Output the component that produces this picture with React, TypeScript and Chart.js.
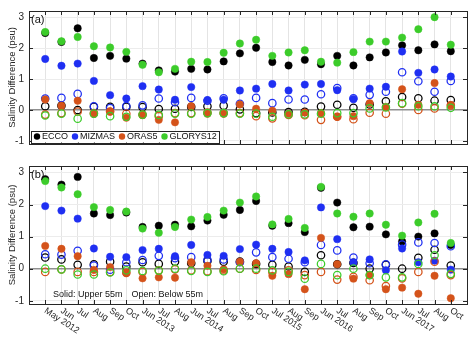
import React, { useEffect, useRef } from 'react';
import { Chart, registerables } from 'chart.js';
Chart.register(...registerables);

const FONT = '"Liberation Sans", Arial, Helvetica, sans-serif';

const categories = ['May 2012', 'Jun', 'Jul', 'Aug', 'Sep', 'Oct', 'Jun 2013', 'Jul', 'Aug', 'Jun 2014', 'Jul', 'Aug', 'Sep', 'Oct', 'Jul 2015', 'Aug', 'Sep', 'Jun 2016', 'Jul', 'Aug', 'Sep', 'Oct', 'Jun 2017', 'Jul', 'Aug', 'Oct'];
const yTicks = [-1, 0, 1, 2, 3];
const modelNames = ['ECCO', 'MIZMAS', 'ORAS5', 'GLORYS12'];
const modelColors = ['#000000', '#1f2ff2', '#d4531a', '#3ccc2a'];

// Panel (a) — solid: upper 55 m, open: below 55 m
const aEccoUpper = [2.49, 2.2, 2.64, 1.68, 1.75, 1.66, 1.5, 1.28, 1.24, 1.33, 1.31, 1.57, 1.83, 2.01, 1.55, 1.44, 1.62, 1.48, 1.75, 1.44, 1.7, 1.86, 2.09, 1.93, 2.12, 1.9];
const aEccoLower = [0.12, 0.14, 0.0, 0.1, 0.1, 0.1, 0.09, 0.03, 0.04, 0.1, 0.12, 0.14, 0.02, -0.1, -0.08, -0.07, -0.06, 0.11, 0.17, 0.07, 0.18, 0.28, 0.42, 0.38, 0.3, 0.32];
const aMizUpper = [1.65, 1.43, 1.5, 0.94, 0.48, 0.37, 0.77, 0.66, 0.33, 0.74, 0.32, 0.33, 0.63, 0.69, 0.84, 0.63, 0.82, 0.84, 0.64, 0.35, 0.69, 0.75, 1.89, 1.2, 1.31, 1.08];
const aMizLower = [0.37, 0.39, 0.52, 0.12, 0.06, 0.13, 0.15, 0.37, 0.25, 0.39, 0.3, 0.38, 0.2, 0.39, 0.22, 0.34, 0.34, 0.51, 0.71, 0.38, 0.49, 0.59, 1.22, 0.93, 0.59, 0.94];
const aOrasUpper = [0.34, 0.14, 0.3, -0.13, -0.05, -0.25, -0.17, -0.32, -0.4, 0.12, -0.12, -0.12, 0.18, 0.04, -0.02, -0.12, -0.08, -0.1, -0.22, -0.2, 0.22, 0.1, 0.67, 0.17, 0.87, 0.16];
const aOrasLower = [-0.15, -0.1, -0.05, -0.1, -0.05, -0.12, -0.15, -0.2, -0.1, -0.1, -0.08, -0.1, -0.1, -0.2, -0.27, -0.16, -0.17, -0.32, -0.22, -0.3, -0.09, -0.12, 0.2, 0.0, 0.05, 0.15];
const aGlorUpper = [2.52, 2.22, 2.36, 2.06, 2.02, 1.88, 1.46, 1.22, 1.33, 1.56, 1.55, 1.85, 2.15, 2.27, 1.75, 1.86, 1.93, 1.56, 1.53, 1.87, 2.21, 2.21, 2.34, 2.61, 3.0, 2.11];
const aGlorLower = [-0.18, -0.12, -0.28, -0.12, -0.2, -0.22, -0.15, -0.16, -0.12, -0.12, -0.1, -0.1, -0.12, -0.12, -0.22, -0.14, -0.14, -0.12, -0.1, -0.1, 0.05, 0.08, 0.22, 0.12, 0.12, 0.07];

// Panel (b)
const bEccoUpper = [2.79, 2.62, 2.86, 1.72, 1.67, 1.75, 1.3, 1.34, 1.37, 1.32, 1.5, 1.68, 1.83, 2.11, 1.34, 1.42, 1.14, 2.52, 2.06, 1.29, 1.31, 1.07, 0.85, 1.0, 1.1, 0.74];
const bEccoLower = [0.35, 0.29, 0.12, 0.14, 0.22, 0.07, 0.2, 0.15, 0.22, 0.17, 0.24, 0.22, 0.22, 0.15, 0.12, 0.07, -0.1, 0.42, 0.14, 0.18, 0.0, 0.12, 0.0, 0.34, 0.59, 0.1];
const bMizUpper = [1.95, 1.81, 1.56, 0.63, 0.37, 0.36, 0.58, 0.62, 0.39, 0.74, 0.43, 0.4, 0.61, 0.75, 0.62, 0.52, 0.26, 1.91, 0.92, 0.2, 0.29, -0.05, 0.63, 0.2, 0.25, -0.03];
const bMizLower = [0.45, 0.44, 0.56, 0.1, -0.03, 0.2, 0.27, 0.4, 0.33, 0.36, 0.28, 0.29, 0.2, 0.51, 0.36, 0.31, 0.2, 0.74, 0.57, 0.35, 0.17, 0.14, 0.75, 0.82, 0.8, 0.7];
const bOrasUpper = [0.71, 0.62, 0.39, -0.04, 0.05, -0.13, -0.3, -0.27, -0.28, 0.2, 0.09, -0.02, 0.22, 0.17, -0.22, -0.17, -0.64, 0.96, 0.14, -0.31, -0.2, -0.64, -0.59, -0.78, -0.22, -0.92];
const bOrasLower = [-0.1, -0.02, -0.1, -0.1, -0.1, -0.13, -0.1, -0.05, -0.02, -0.05, -0.08, -0.05, 0.0, -0.04, -0.1, -0.05, -0.2, -0.1, -0.34, -0.25, -0.36, -0.54, -0.3, -0.1, 0.22, -0.2];
const bGlorUpper = [2.73, 2.53, 2.32, 1.92, 1.83, 1.78, 1.25, 1.12, 1.3, 1.53, 1.61, 1.81, 2.06, 2.25, 1.38, 1.55, 1.27, 2.55, 1.72, 1.62, 1.72, 1.37, 1.03, 1.44, 1.71, 0.8];
const bGlorLower = [0.0, -0.02, -0.18, -0.18, -0.12, -0.05, -0.07, -0.06, 0.0, -0.07, -0.1, -0.08, 0.0, 0.0, -0.05, -0.1, -0.31, 0.15, -0.2, 0.0, -0.2, -0.27, -0.27, 0.15, 0.42, -0.16];

const noteSolid = 'Solid: Upper 55m';
const noteOpen = 'Open: Below 55m';
const yTitle = 'Salinity Difference (psu)';

function toPoints(arr: number[]) {
  return arr.map((v, i) => ({ x: i + 1, y: v }));
}

function makeDatasets(upper: number[][], lower: number[][]) {
  const list: any[] = [];
  for (let m = 0; m < 4; m++) {
    list.push({
      label: modelNames[m] + ' upper',
      data: toPoints(upper[m]),
      showLine: false,
      pointStyle: 'circle',
      pointRadius: 3.7,
      pointBackgroundColor: modelColors[m],
      pointBorderColor: modelColors[m],
      pointBorderWidth: 0.5,
    });
    list.push({
      label: modelNames[m] + ' lower',
      data: toPoints(lower[m]),
      showLine: false,
      pointStyle: 'circle',
      pointRadius: 3.7,
      pointBackgroundColor: 'rgba(0,0,0,0)',
      pointBorderColor: modelColors[m],
      pointBorderWidth: 1.25,
    });
  }
  // Chart.js paints dataset 0 last (on top); reverse so GLORYS12 ends on top
  return list.reverse();
}

interface PanelOpts {
  tag: string;
  legend: boolean;
  xLabels: boolean;
  note: boolean;
  padTop: number;
  padBottom: number;
}

function decorPlugin(opts: PanelOpts) {
  return {
    id: 'decor',
    afterDraw(chart: any) {
      const ctx = chart.ctx as CanvasRenderingContext2D;
      const { left, right, top, bottom } = chart.chartArea;
      const xs = chart.scales.x;
      const ys = chart.scales.y;
      ctx.save();
      // frame
      ctx.strokeStyle = '#262626';
      ctx.lineWidth = 1;
      ctx.strokeRect(Math.round(left) + 0.5, Math.round(top) + 0.5, Math.round(right - left), Math.round(bottom - top));
      // inward tick marks
      ctx.beginPath();
      categories.forEach((_, i) => {
        const px = Math.round(xs.getPixelForValue(i + 1)) + 0.5;
        ctx.moveTo(px, bottom);
        ctx.lineTo(px, bottom - 4);
        ctx.moveTo(px, top);
        ctx.lineTo(px, top + 4);
      });
      yTicks.forEach((v) => {
        const py = Math.round(ys.getPixelForValue(v)) + 0.5;
        ctx.moveTo(left, py);
        ctx.lineTo(left + 4, py);
        ctx.moveTo(right, py);
        ctx.lineTo(right - 4, py);
      });
      ctx.stroke();

      // panel tag
      ctx.fillStyle = '#111';
      ctx.font = `11px ${FONT}`;
      ctx.textAlign = 'left';
      ctx.textBaseline = 'middle';
      ctx.fillText(opts.tag, left + 2, top + 9);

      // y title
      ctx.save();
      ctx.translate(12, (top + bottom) / 2);
      ctx.rotate(-Math.PI / 2);
      ctx.font = `9.5px ${FONT}`;
      ctx.textAlign = 'center';
      ctx.textBaseline = 'middle';
      ctx.fillStyle = '#262626';
      ctx.fillText(yTitle, 0, 0);
      ctx.restore();

      if (opts.legend) {
        ctx.font = `9px ${FONT}`;
        ctx.textBaseline = 'middle';
        ctx.textAlign = 'left';
        const boxL = left + 2;
        const boxT = bottom - 13.5;
        const boxB = bottom - 1.5;
        const cy = (boxT + boxB) / 2;
        let x = boxL + 6;
        const items: { mx: number; tx: number; w: number }[] = [];
        modelNames.forEach((name) => {
          const w = ctx.measureText(name).width;
          items.push({ mx: x, tx: x + 5, w });
          x = x + 5 + w + 7;
        });
        const boxR = items[3].tx + items[3].w + 2.5;
        ctx.fillStyle = '#fff';
        ctx.fillRect(boxL, boxT, boxR - boxL, boxB - boxT);
        ctx.strokeStyle = '#262626';
        ctx.lineWidth = 1;
        ctx.strokeRect(Math.round(boxL) + 0.5, Math.round(boxT) + 0.5, Math.round(boxR - boxL), Math.round(boxB - boxT));
        items.forEach((it, m) => {
          ctx.beginPath();
          ctx.fillStyle = modelColors[m];
          ctx.arc(it.mx, cy, 3.2, 0, Math.PI * 2);
          ctx.fill();
          ctx.fillStyle = '#111';
          ctx.fillText(modelNames[m], it.tx, cy + 0.5);
        });
      }

      if (opts.note) {
        ctx.font = `9px ${FONT}`;
        ctx.textBaseline = 'middle';
        ctx.textAlign = 'left';
        ctx.fillStyle = '#111';
        ctx.fillText(noteSolid, left + 24, bottom - 9);
        ctx.fillText(noteOpen, left + 102.5, bottom - 9);
      }

      if (opts.xLabels) {
        ctx.font = `9px ${FONT}`;
        ctx.textBaseline = 'middle';
        ctx.textAlign = 'left';
        ctx.fillStyle = '#262626';
        const ang = (33 * Math.PI) / 180;
        categories.forEach((lab, i) => {
          const px = xs.getPixelForValue(i + 1);
          ctx.save();
          ctx.translate(px, bottom + 6);
          ctx.rotate(ang);
          ctx.fillText(lab, 0, 0);
          ctx.restore();
        });
      }
      ctx.restore();
    },
  };
}

function Panel({ width, height, upper, lower, opts, style }: any) {
  const ref = useRef<HTMLCanvasElement | null>(null);
  useEffect(() => {
    if (!ref.current) return;
    const chart = new Chart(ref.current, {
      type: 'scatter',
      data: { datasets: makeDatasets(upper, lower) },
      options: {
        animation: false,
        responsive: false,
        devicePixelRatio: 1,
        layout: { padding: { left: 0, right: 7, top: opts.padTop, bottom: opts.padBottom } },
        plugins: { legend: { display: false }, tooltip: { enabled: false }, title: { display: false } },
        scales: {
          x: {
            type: 'linear',
            min: 0,
            max: categories.length + 1,
            afterBuildTicks: (s: any) => {
              s.ticks = categories.map((_, i) => ({ value: i + 1 }));
            },
            afterFit: (s: any) => {
              s.height = 0;
            },
            ticks: { display: false },
            grid: { color: '#e4e4e4', lineWidth: 1, drawTicks: false },
            border: { display: false },
          },
          y: {
            type: 'linear',
            min: -1.1,
            max: 3.2,
            afterBuildTicks: (s: any) => {
              s.ticks = yTicks.map((v) => ({ value: v }));
            },
            afterFit: (s: any) => {
              s.width = 29;
            },
            ticks: {
              font: { family: FONT, size: 10 },
              color: '#262626',
              padding: 5,
              callback: (v: any) => String(v),
            },
            grid: {
              drawTicks: false,
              color: (c: any) => (c.tick && c.tick.value === 0 ? '#8f8f8f' : '#ececec'),
              lineWidth: (c: any) => (c.tick && c.tick.value === 0 ? 1.6 : 1),
            },
            border: { display: false },
          },
        },
      },
      plugins: [decorPlugin(opts)],
    } as any);
    return () => chart.destroy();
  }, []);
  return <canvas ref={ref} width={width} height={height} style={{ position: 'absolute', left: 0, width, height, ...style }} />;
}

export default function App() {
  return (
    <div style={{ position: 'absolute', left: 0, top: 0, width: 474, height: 338, background: '#fff', overflow: 'hidden' }}>
      <Panel
        width={474}
        height={155}
        style={{ top: 0 }}
        upper={[aEccoUpper, aMizUpper, aOrasUpper, aGlorUpper]}
        lower={[aEccoLower, aMizLower, aOrasLower, aGlorLower]}
        opts={{ tag: '(a)', legend: true, xLabels: false, note: false, padTop: 5, padBottom: 5 }}
      />
      <Panel
        width={474}
        height={183}
        style={{ top: 155 }}
        upper={[bEccoUpper, bMizUpper, bOrasUpper, bGlorUpper]}
        lower={[bEccoLower, bMizLower, bOrasLower, bGlorLower]}
        opts={{ tag: '(b)', legend: false, xLabels: true, note: true, padTop: 2.5, padBottom: 34 }}
      />
    </div>
  );
}
